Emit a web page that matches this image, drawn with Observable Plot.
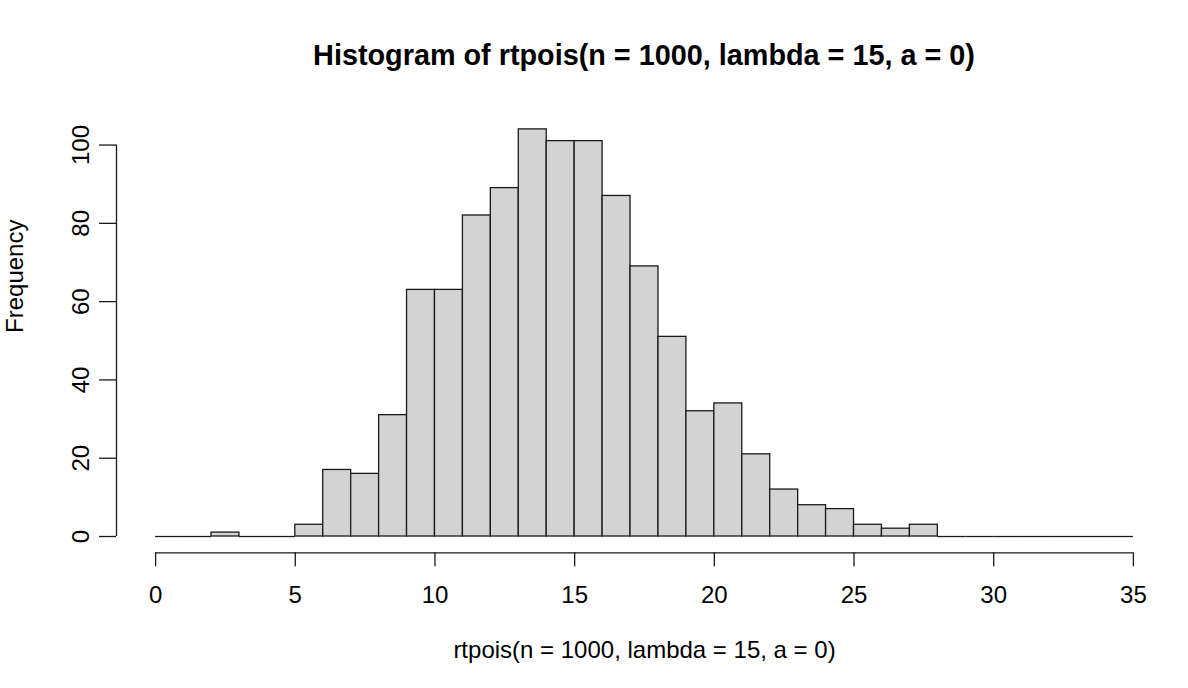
<!DOCTYPE html>
<html>
<head>
<meta charset="utf-8">
<script src="https://cdn.jsdelivr.net/npm/d3@7"></script>
<script src="https://cdn.jsdelivr.net/npm/@observablehq/plot@0.6"></script>
<style>
  html, body { margin: 0; padding: 0; background: #fff; }
  body { font-family: "Liberation Sans", Arial, sans-serif; width: 1188px; height: 688px; overflow: hidden; }
  #title { box-sizing: border-box; height: 100px; width: 1056px; margin-left: 116px; padding-top: 38px;
           text-align: center; font-weight: bold; font-size: 28.8px; line-height: 34px; color: #000; }
  #chart svg { display: block; }
</style>
</head>
<body>
<div id="title"></div>
<div id="chart"></div>
<script>
// ---- data ----
const titleText = "Histogram of rtpois(n = 1000, lambda = 15, a = 0)";
const xLabel = "rtpois(n = 1000, lambda = 15, a = 0)";
const yLabel = "Frequency";
const binLower = [0,1,2,3,4,5,6,7,8,9,10,11,12,13,14,15,16,17,18,19,20,21,22,23,24,25,26,27,28,29,30,31,32,33,34];
const binUpper = [1,2,3,4,5,6,7,8,9,10,11,12,13,14,15,16,17,18,19,20,21,22,23,24,25,26,27,28,29,30,31,32,33,34,35];
const counts   = [0,0,1,0,0,3,17,16,31,63,63,82,89,104,101,101,87,69,51,32,34,21,12,8,7,3,2,3,0,0,0,0,0,0,0];
const xTicks = [0,5,10,15,20,25,30,35];
const yTicks = [0,20,40,60,80,100];

document.getElementById("title").textContent = titleText;

const bins = binLower.map((lo, i) => ({x1: lo, x2: binUpper[i], count: counts[i]}));
const emptyBins = bins.filter(b => b.count === 0);

// R-style 4% axis extension
const xMin = binLower[0], xMax = binUpper[binUpper.length - 1];
const yMax = d3.max(counts);
const xPad = (xMax - xMin) * 0.04, yPad = yMax * 0.04;

const font = "Liberation Sans, Arial, sans-serif";
const ink = "#1a1a1a";

const chart = Plot.plot({
  width: 1188,
  height: 588,
  marginLeft: 116,
  marginRight: 16,
  marginTop: 12.6,
  marginBottom: 135.7,
  style: {fontFamily: font, fontSize: "24px", color: "#000", background: "#fff"},
  x: {domain: [xMin - xPad, xMax + xPad]},
  y: {domain: [-yPad, yMax + yPad]},
  marks: [
    Plot.rectY(bins, {x1: "x1", x2: "x2", y: "count", fill: "#d3d3d3", stroke: ink, strokeWidth: 1.3}),
    // zero-height bins are drawn by R as flat outlines on the baseline
    Plot.ruleY(emptyBins, {x1: "x1", x2: "x2", y: "count", stroke: ink, strokeWidth: 1.3}),
    // x axis (R style, offset below the data)
    Plot.ruleY([{y: -yPad, x1: xTicks[0], x2: xTicks[xTicks.length - 1]}],
      {y: "y", x1: "x1", x2: "x2", stroke: ink, strokeWidth: 1.3}),
    Plot.axisX({ticks: xTicks, tickSize: 14, tickPadding: 19, fontSize: 24, label: null,
      stroke: ink, strokeWidth: 1.3, fill: "#000"}),
    // y axis
    Plot.ruleX([{x: xMin - xPad, y1: yTicks[0], y2: yTicks[yTicks.length - 1]}],
      {x: "x", y1: "y1", y2: "y2", stroke: ink, strokeWidth: 1.3}),
    Plot.axisY({ticks: yTicks, tickSize: 17, tickPadding: 11, tickRotate: -90, fontSize: 24, label: null,
      stroke: ink, strokeWidth: 1.3, fill: "#000"}),
    // axis titles
    Plot.text([xLabel], {frameAnchor: "bottom", dy: 104.7, fontSize: 24, fill: "#000"}),
    Plot.text([yLabel], {frameAnchor: "left", dx: -101, rotate: -90, fontSize: 24, fill: "#000"})
  ]
});
document.getElementById("chart").appendChild(chart);
</script>
</body>
</html>
